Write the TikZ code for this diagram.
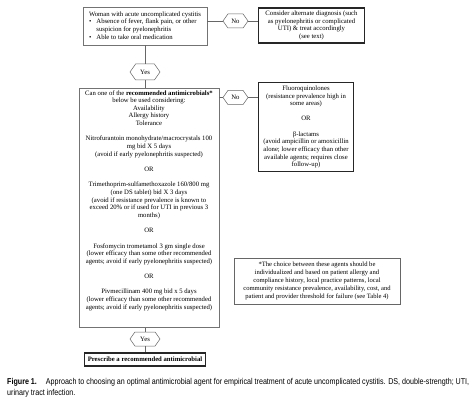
\documentclass[tikz,border=0pt]{standalone}
\usepackage{fontspec}
\setmainfont{Liberation Serif}
\newfontfamily\capfont[FakeStretch=0.84]{Liberation Sans}
\usetikzlibrary{shapes.symbols}
\begin{document}
\begin{tikzpicture}[x=1pt,y=-1pt,
  every node/.style={font=\fontsize{6.7}{7.65}\selectfont},
  thinbox/.style={draw=black!55, line width=0.6pt, align=center, inner xsep=1pt, inner ysep=2pt},
  thickbox/.style={draw=black!85, line width=1.2pt, align=center, inner sep=2pt},
  notebox/.style={draw=black!60, line width=0.9pt, align=center, inner sep=2pt, font=\fontsize{6.6}{8.1}\selectfont},
  sign/.style={signal, signal to=east and west, draw=black!60, line width=0.5pt, minimum height=14pt, inner xsep=1pt, inner ysep=0pt, signal pointer angle=110},
  conn/.style={draw=black!60, line width=0.5pt}
]
\useasboundingbox (0,0) rectangle (474,406);
\fill[white] (0,0) rectangle (474,406);

\node[thinbox, minimum width=124pt, minimum height=38pt] (start) at (145,26) {%
\begin{tabular}{@{}l@{\hspace{5pt}}p{104pt}@{}}
\multicolumn{2}{@{}l@{}}{Woman with acute uncomplicated cystitis}\\
\textbullet & Absence of fever, flank pain, or other\newline suspicion for pyelonephritis\\
\textbullet & Able to take oral medication
\end{tabular}};

\node[thickbox, minimum width=106pt, minimum height=35pt] (alt) at (311.5,25.5)
  {Consider alternate diagnosis (such\\as pyelonephritis or complicated\\UTI) \& treat accordingly\\(see text)};

\node[sign, minimum width=25pt] (no1) at (235.5,21) {No};
\node[sign, minimum width=30pt, minimum height=16pt] (yes1) at (145,72) {Yes};

\node[thinbox, anchor=north, minimum width=140pt] (choice) at (149,88) {%
Can one of the \textbf{recommended antimicrobials*}\\
below be used considering:\\
Availability\\
Allergy history\\
Tolerance\\[7.65pt]
Nitrofurantoin monohydrate/macrocrystals 100\\
mg bid X 5 days\\
(avoid if early pyelonephritis suspected)\\[7.65pt]
OR\\[7.65pt]
Trimethoprim-sulfamethoxazole 160/800 mg\\
(one DS tablet) bid X 3 days\\
(avoid if resistance prevalence is known to\\
exceed 20\% or if used for UTI in previous 3\\
months)\\[7.65pt]
OR\\[7.65pt]
Fosfomycin trometamol 3 gm single dose\\
(lower efficacy than some other recommended\\
agents; avoid if early pyelonephritis suspected)\\[7.65pt]
OR\\[7.65pt]
Pivmecillinam 400 mg bid x 5 days\\
(lower efficacy than some other recommended\\
agents; avoid if early pyelonephritis suspected)\\[8.5pt]
\mbox{}};

\node[sign, minimum width=25pt] (no2) at (235.5,97.5) {No};

\node[thickbox, minimum width=95pt, minimum height=89pt] (alt2) at (306,127) {%
Fluoroquinolones\\
(resistance prevalence high in\\
some areas)\\[7.65pt]
OR\\[7.65pt]
β-lactams\\
(avoid ampicillin or amoxicillin\\
alone; lower efficacy than other\\
available agents; requires close\\
follow-up)};

\node[notebox, minimum width=166pt, minimum height=46pt] (note) at (317,281) {%
*The choice between these agents should be\\
individualized and based on patient allergy and\\
compliance history, local practice patterns, local\\
community resistance prevalence, availability, cost, and\\
patient and provider threshold for failure (see Table 4)};

\node[sign, minimum width=30pt] (yes2) at (145,339) {Yes};

\node[thickbox, minimum width=121pt, minimum height=13pt] (rx) at (145,359.5)
  {\textbf{Prescribe a recommended antimicrobial}};

\draw[conn] (start.south) -- (yes1.north);
\draw[conn] (yes1.south) -- (yes1.south |- choice.north);
\draw[conn] (start.east |- no1) -- (no1.west);
\draw[conn] (no1.east) -- (alt.west |- no1);
\draw[conn] (choice.east |- no2) -- (no2.west);
\draw[conn] (no2.east) -- (alt2.west |- no2);
\draw[conn] (choice.south -| yes2) -- (yes2.north);
\draw[conn] (yes2.south) -- (yes2.south |- rx.north);

\node[anchor=north west, inner sep=0pt, align=left, font=\capfont\fontsize{8.5}{11}\selectfont] (cap) at (7,378.5)
  {\textbf{Figure 1.}\hspace{9pt}Approach to choosing an optimal antimicrobial agent for empirical treatment of acute uncomplicated cystitis. DS, double-strength; UTI,\\
   urinary tract infection.};
\end{tikzpicture}
\end{document}
